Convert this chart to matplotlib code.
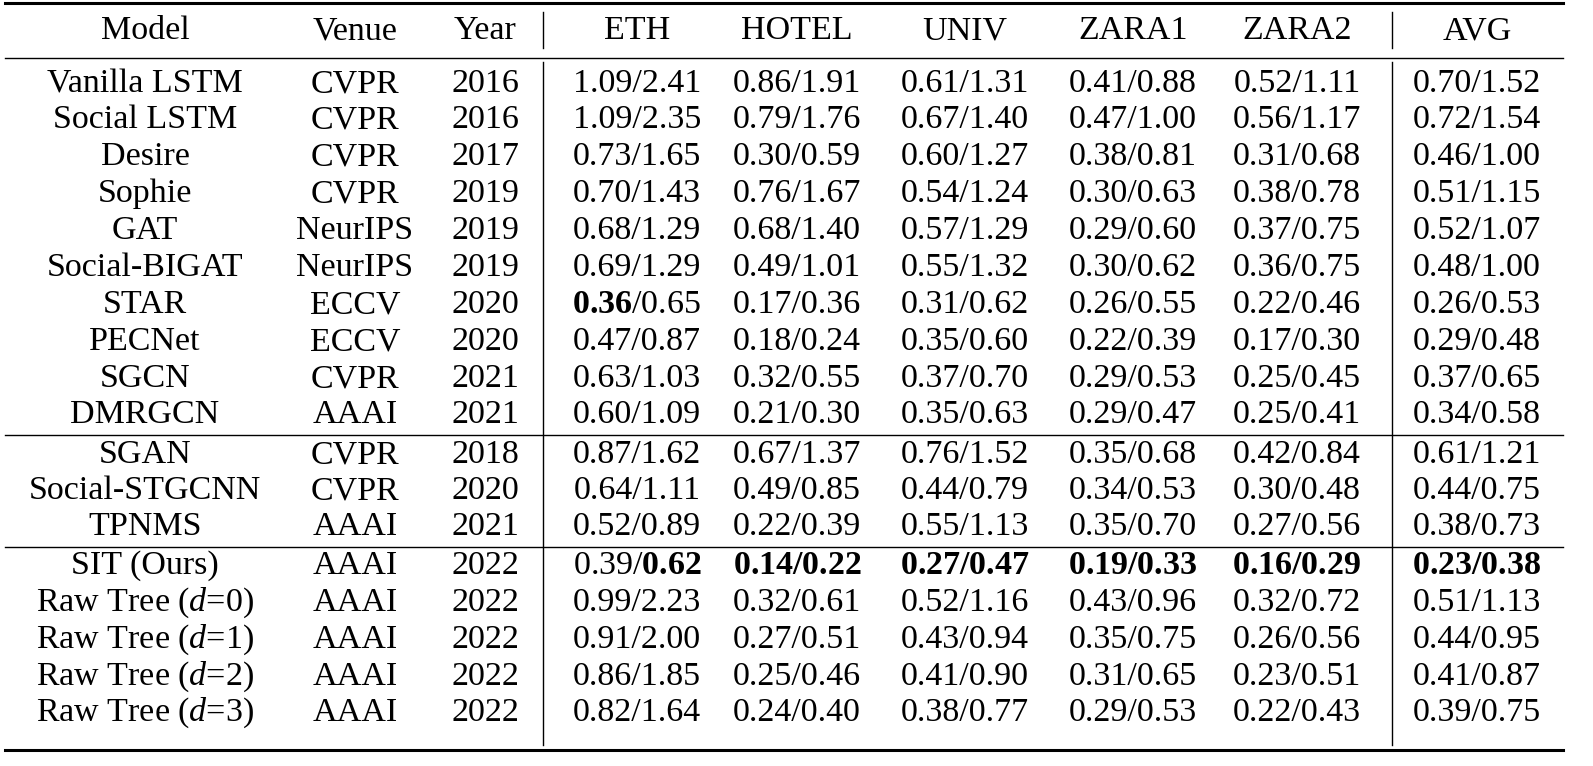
import matplotlib
matplotlib.use("Agg")
import matplotlib.pyplot as plt

plt.rcParams['mathtext.fontset'] = 'custom'
plt.rcParams['mathtext.rm'] = 'Liberation Serif'
plt.rcParams['mathtext.bf'] = 'Liberation Serif:bold'
plt.rcParams['mathtext.it'] = 'Liberation Serif:italic'

headers = ["Model", "Venue", "Year", "ETH", "HOTEL", "UNIV", "ZARA1", "ZARA2", "AVG"]
models = ["Vanilla LSTM", "Social LSTM", "Desire", "Sophie", "GAT", "Social-BIGAT", "STAR",
          "PECNet", "SGCN", "DMRGCN", "SGAN", "Social-STGCNN", "TPNMS", "SIT (Ours)",
          r"Raw Tree ($\mathit{d}$=0)", r"Raw Tree ($\mathit{d}$=1)",
          r"Raw Tree ($\mathit{d}$=2)", r"Raw Tree ($\mathit{d}$=3)"]
venues = ["CVPR", "CVPR", "CVPR", "CVPR", "NeurIPS", "NeurIPS", "ECCV", "ECCV", "CVPR", "AAAI",
          "CVPR", "CVPR", "AAAI", "AAAI", "AAAI", "AAAI", "AAAI", "AAAI"]
years = ["2016", "2016", "2017", "2019", "2019", "2019", "2020", "2020", "2021", "2021",
         "2018", "2020", "2021", "2022", "2022", "2022", "2022", "2022"]
eth = ["1.09/2.41", "1.09/2.35", "0.73/1.65", "0.70/1.43", "0.68/1.29", "0.69/1.29",
       r"$\mathbf{0.36}$/0.65", "0.47/0.87", "0.63/1.03", "0.60/1.09", "0.87/1.62", "0.64/1.11",
       "0.52/0.89", r"0.39/$\mathbf{0.62}$", "0.99/2.23", "0.91/2.00", "0.86/1.85", "0.82/1.64"]
hotel = ["0.86/1.91", "0.79/1.76", "0.30/0.59", "0.76/1.67", "0.68/1.40", "0.49/1.01", "0.17/0.36",
         "0.18/0.24", "0.32/0.55", "0.21/0.30", "0.67/1.37", "0.49/0.85", "0.22/0.39",
         r"$\mathbf{0.14/0.22}$", "0.32/0.61", "0.27/0.51", "0.25/0.46", "0.24/0.40"]
univ = ["0.61/1.31", "0.67/1.40", "0.60/1.27", "0.54/1.24", "0.57/1.29", "0.55/1.32", "0.31/0.62",
        "0.35/0.60", "0.37/0.70", "0.35/0.63", "0.76/1.52", "0.44/0.79", "0.55/1.13",
        r"$\mathbf{0.27/0.47}$", "0.52/1.16", "0.43/0.94", "0.41/0.90", "0.38/0.77"]
zara1 = ["0.41/0.88", "0.47/1.00", "0.38/0.81", "0.30/0.63", "0.29/0.60", "0.30/0.62", "0.26/0.55",
         "0.22/0.39", "0.29/0.53", "0.29/0.47", "0.35/0.68", "0.34/0.53", "0.35/0.70",
         r"$\mathbf{0.19/0.33}$", "0.43/0.96", "0.35/0.75", "0.31/0.65", "0.29/0.53"]
zara2 = ["0.52/1.11", "0.56/1.17", "0.31/0.68", "0.38/0.78", "0.37/0.75", "0.36/0.75", "0.22/0.46",
         "0.17/0.30", "0.25/0.45", "0.25/0.41", "0.42/0.84", "0.30/0.48", "0.27/0.56",
         r"$\mathbf{0.16/0.29}$", "0.32/0.72", "0.26/0.56", "0.23/0.51", "0.22/0.43"]
avg = ["0.70/1.52", "0.72/1.54", "0.46/1.00", "0.51/1.15", "0.52/1.07", "0.48/1.00", "0.26/0.53",
       "0.29/0.48", "0.37/0.65", "0.34/0.58", "0.61/1.21", "0.44/0.75", "0.38/0.73",
       r"$\mathbf{0.23/0.38}$", "0.51/1.13", "0.44/0.95", "0.41/0.87", "0.39/0.75"]

columns = [models, venues, years, eth, hotel, univ, zara1, zara2, avg]

W, H = 1593, 766
fig = plt.figure(figsize=(W / 100, H / 100), dpi=100)
ax = fig.add_axes([0, 0, 1, 1])
ax.set_xlim(0, W)
ax.set_ylim(H, 0)
ax.axis('off')

xc = [145, 355, 485, 637, 797, 965, 1133, 1297, 1477]
row_y = [84, 120, 157, 194, 231, 268, 305, 342, 379, 415,
         455, 491, 527, 566, 603, 640, 677, 713]
fs = 24.5
font = 'Liberation Serif'

for x, h in zip(xc, headers):
    ax.text(x, 31, h, ha='center', va='center', fontsize=fs, family=font)
for x, col in zip(xc, columns):
    for y, v in zip(row_y, col):
        ax.text(x, y, v, ha='center', va='center', fontsize=fs, family=font)

x0, x1 = 5, 1563
ax.plot([x0, x1], [3, 3], color='black', lw=2.2)
ax.plot([x0, x1], [58, 58], color='black', lw=1.0)
ax.plot([x0, x1], [435, 435], color='black', lw=1.0)
ax.plot([x0, x1], [547, 547], color='black', lw=1.0)
ax.plot([x0, x1], [750, 750], color='black', lw=2.2)
for vx in (543, 1392):
    ax.plot([vx, vx], [12, 48], color='black', lw=1.0)
    ax.plot([vx, vx], [62, 745], color='black', lw=1.0)

fig.savefig('out.png', dpi=100)
